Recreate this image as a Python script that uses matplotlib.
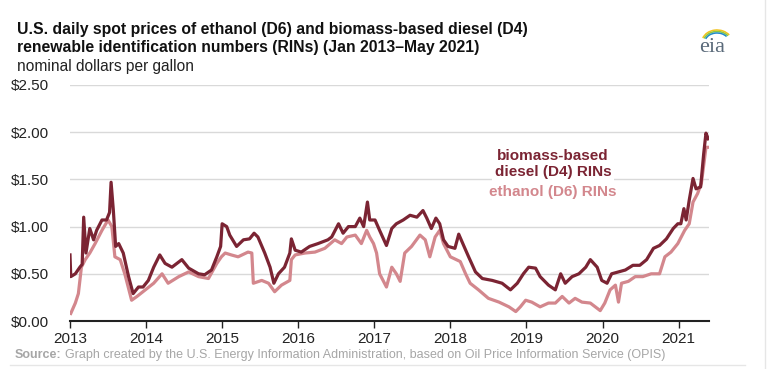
import matplotlib.pyplot as plt
import matplotlib.patches as mpatches
import numpy as np

plt.rcParams['font.family'] = ['Liberation Sans', 'DejaVu Sans']

# biomass-based diesel (D4) RIN, decimal year / dollars per gallon
d4_year = [2013.00, 2013.01, 2013.07, 2013.13, 2013.16, 2013.18, 2013.21, 2013.26, 2013.31,
           2013.35, 2013.42, 2013.48, 2013.52, 2013.54, 2013.57, 2013.60, 2013.64, 2013.70,
           2013.77, 2013.83, 2013.90, 2013.96, 2014.03, 2014.10, 2014.18, 2014.25, 2014.34,
           2014.47, 2014.56, 2014.69, 2014.77, 2014.86, 2014.93, 2014.98, 2015.00, 2015.06,
           2015.10, 2015.19, 2015.28, 2015.36, 2015.42, 2015.47, 2015.56, 2015.63, 2015.68,
           2015.74, 2015.82, 2015.89, 2015.91, 2015.96, 2016.04, 2016.15, 2016.26, 2016.39,
           2016.44, 2016.53, 2016.59, 2016.66, 2016.75, 2016.81, 2016.86, 2016.91, 2016.94,
           2017.01, 2017.07, 2017.16, 2017.23, 2017.29, 2017.38, 2017.47, 2017.56, 2017.64,
           2017.69, 2017.75, 2017.81, 2017.86, 2017.91, 2017.97, 2018.06, 2018.11, 2018.18,
           2018.24, 2018.33, 2018.42, 2018.55, 2018.68, 2018.79, 2018.88, 2018.96, 2019.03,
           2019.12, 2019.18, 2019.29, 2019.38, 2019.45, 2019.51, 2019.60, 2019.69, 2019.78,
           2019.84, 2019.93, 2019.99, 2020.06, 2020.12, 2020.21, 2020.30, 2020.40, 2020.49,
           2020.58, 2020.67, 2020.75, 2020.84, 2020.93, 2020.99, 2021.03, 2021.07, 2021.10,
           2021.14, 2021.19, 2021.23, 2021.29, 2021.33, 2021.36, 2021.39]
d4_price = [0.70, 0.47, 0.50, 0.57, 0.60, 1.10, 0.72, 0.98, 0.86,
            0.96, 1.07, 1.07, 1.15, 1.47, 1.17, 0.79, 0.82, 0.72,
            0.47, 0.29, 0.36, 0.36, 0.43, 0.57, 0.70, 0.61, 0.57,
            0.65, 0.56, 0.50, 0.49, 0.54, 0.68, 0.79, 1.03, 1.00,
            0.91, 0.79, 0.86, 0.87, 0.93, 0.89, 0.72, 0.57, 0.40,
            0.50, 0.57, 0.72, 0.87, 0.75, 0.73, 0.79, 0.82, 0.86,
            0.89, 1.03, 0.93, 1.00, 1.00, 1.09, 1.00, 1.26, 1.07,
            1.07, 0.96, 0.80, 0.98, 1.03, 1.07, 1.12, 1.10, 1.17,
            1.09, 0.98, 1.09, 1.03, 0.86, 0.79, 0.77, 0.92, 0.79,
            0.68, 0.52, 0.45, 0.43, 0.40, 0.33, 0.40, 0.50, 0.57,
            0.56, 0.47, 0.38, 0.33, 0.50, 0.40, 0.47, 0.50, 0.57,
            0.65, 0.57, 0.43, 0.40, 0.50, 0.52, 0.54, 0.59, 0.59,
            0.65, 0.77, 0.80, 0.87, 0.98, 1.03, 1.03, 1.19, 1.07,
            1.28, 1.51, 1.40, 1.42, 1.77, 1.99, 1.93]

# ethanol (D6) RIN
d6_year = [2013.01, 2013.07, 2013.11, 2013.15, 2013.20, 2013.26, 2013.33, 2013.42, 2013.50,
           2013.55, 2013.59, 2013.66, 2013.72, 2013.81, 2013.88, 2013.99, 2014.10, 2014.21,
           2014.29, 2014.43, 2014.56, 2014.69, 2014.82, 2014.93, 2014.99, 2015.04, 2015.12,
           2015.21, 2015.34, 2015.39, 2015.41, 2015.52, 2015.61, 2015.69, 2015.78, 2015.89,
           2015.91, 2015.96, 2016.09, 2016.22, 2016.35, 2016.48, 2016.57, 2016.64, 2016.75,
           2016.83, 2016.90, 2016.94, 2016.99, 2017.03, 2017.07, 2017.16, 2017.23, 2017.29,
           2017.34, 2017.40, 2017.49, 2017.60, 2017.67, 2017.73, 2017.80, 2017.86, 2017.91,
           2018.00, 2018.13, 2018.20, 2018.26, 2018.37, 2018.50, 2018.64, 2018.77, 2018.86,
           2018.92, 2018.99, 2019.07, 2019.18, 2019.29, 2019.38, 2019.47, 2019.56, 2019.64,
           2019.73, 2019.84, 2019.97, 2020.03, 2020.10, 2020.17, 2020.21, 2020.25, 2020.34,
           2020.43, 2020.53, 2020.64, 2020.75, 2020.82, 2020.90, 2020.99, 2021.08, 2021.14,
           2021.19, 2021.25, 2021.30, 2021.34, 2021.36, 2021.39]
d6_price = [0.08, 0.19, 0.29, 0.57, 0.65, 0.72, 0.82, 0.96, 1.07,
            1.00, 0.68, 0.65, 0.50, 0.22, 0.26, 0.33, 0.40, 0.50,
            0.40, 0.47, 0.52, 0.47, 0.45, 0.61, 0.68, 0.72, 0.70,
            0.68, 0.73, 0.72, 0.40, 0.43, 0.40, 0.31, 0.38, 0.43,
            0.65, 0.70, 0.72, 0.73, 0.77, 0.86, 0.82, 0.89, 0.91,
            0.82, 0.96, 0.89, 0.82, 0.72, 0.50, 0.36, 0.57, 0.50,
            0.42, 0.72, 0.79, 0.91, 0.86, 0.68, 0.89, 0.96, 0.82,
            0.68, 0.63, 0.50, 0.40, 0.33, 0.24, 0.20, 0.15, 0.10,
            0.15, 0.22, 0.20, 0.15, 0.19, 0.19, 0.26, 0.19, 0.24,
            0.20, 0.19, 0.11, 0.19, 0.33, 0.38, 0.20, 0.40, 0.42,
            0.47, 0.47, 0.50, 0.50, 0.68, 0.73, 0.82, 0.96, 1.03,
            1.26, 1.35, 1.46, 1.71, 1.84, 1.84]

years = list(range(2013, 2022))
y_ticks = [0, 0.5, 1.0, 1.5, 2.0, 2.5]

d4_color = '#7b2433'
d6_color = '#d3878d'

fig = plt.figure(figsize=(7.68, 3.69), dpi=100)
ax = fig.add_axes([70/768, 1-321/369, 639/768, 236/369])

ax.plot(d6_year, d6_price, color=d6_color, linewidth=2.3, solid_joinstyle='round')
ax.plot(d4_year, d4_price, color=d4_color, linewidth=2.3, solid_joinstyle='round')

ax.set_xlim(2013, 2021.40)
ax.set_ylim(0, 2.5)
ax.set_xticks(years)
ax.set_xticklabels([str(y) for y in years], fontsize=11, color='#222222')
ax.set_yticks(y_ticks)
ax.set_yticklabels(['${:.2f}'.format(v) for v in y_ticks], fontsize=11, color='#222222')
ax.tick_params(axis='y', length=0, pad=15)
ax.tick_params(axis='x', length=5, width=1, direction='out', pad=3, color='#222222')
ax.grid(axis='y', color='#d9d9d9', linewidth=1)
ax.set_axisbelow(True)
for s in ['top', 'right', 'left']:
    ax.spines[s].set_visible(False)
ax.spines['bottom'].set_linewidth(1.5)
ax.spines['bottom'].set_color('#222222')
ax.spines['bottom'].set_zorder(5)

ax.text(2019.35, 1.665, 'biomass-based\ndiesel (D4) RINs', color=d4_color, fontsize=11,
        fontweight='bold', ha='center', va='center', linespacing=1.2,
        bbox=dict(facecolor='white', edgecolor='none', pad=2))
ax.text(2019.35, 1.37, 'ethanol (D6) RINs', color=d6_color, fontsize=11,
        fontweight='bold', ha='center', va='center')

fig.text(17/768, 1-29.5/369, 'U.S. daily spot prices of ethanol (D6) and biomass-based diesel (D4)',
         fontsize=11.3, fontweight='bold', va='center', color='#111111')
fig.text(17/768, 1-47.5/369, 'renewable identification numbers (RINs) (Jan 2013\u2013May 2021)',
         fontsize=11.3, fontweight='bold', va='center', color='#111111')
fig.text(17/768, 1-66/369, 'nominal dollars per gallon', fontsize=11.2, va='center', color='#222222')

# source line
t = fig.text(15/768, 1-355/369, 'Source:', fontsize=9, fontweight='bold', va='center', color='#a6a6a6')
fig.canvas.draw()
bb = t.get_window_extent()
fig.text(bb.x1/768 + 3/768, 1-355/369,
         'Graph created by the U.S. Energy Information Administration, based on Oil Price Information Service (OPIS)',
         fontsize=9, va='center', color='#a6a6a6')
fig.add_artist(plt.Line2D([10/768, 745/768], [1-365/369, 1-365/369], color='#e6e6e6', linewidth=1))
fig.add_artist(plt.Line2D([765/768, 765/768], [0.0, 1.0], color='#e6e6e6', linewidth=1))

# eia logo
fig.text(712/768, 1-48/369, 'eia', fontsize=16, family=['Liberation Serif', 'DejaVu Serif'],
         ha='center', va='center', color='#5a6a7a')
for i, c in enumerate(['#f2c21b', '#8cc63f', '#1f8ac9']):
    fig.add_artist(mpatches.Arc((717/768, 1-42/369), (30 - 3*i)/768, (24 - 3*i)/369,
                                theta1=50, theta2=150, color=c, linewidth=1.1,
                                transform=fig.transFigure))

fig.savefig('out.png', dpi=100)
